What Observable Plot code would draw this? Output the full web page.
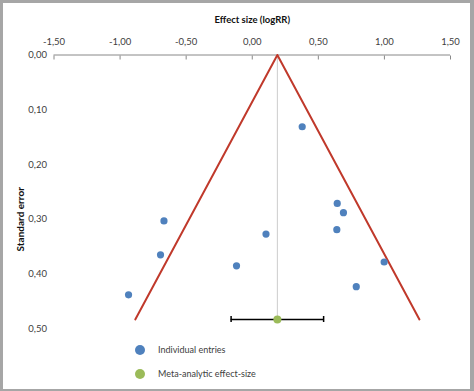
<!DOCTYPE html>
<html>
<head>
<meta charset="utf-8">
<script src="https://cdn.jsdelivr.net/npm/d3@7"></script>
<script src="https://cdn.jsdelivr.net/npm/@observablehq/plot@0.6"></script>
<style>
  html, body { margin: 0; padding: 0; background: #fff; }
  #fig { width: 474px; height: 391px; box-sizing: border-box; border-style: solid; border-color: #a6a6a6;
         border-width: 3px 4px 2px 3px; background: #fff; font-family: Lato, "Open Sans", sans-serif; overflow: hidden; }
  #legend { position: relative; height: 54px; font-size: 9px; color: #404040; }
  .row { position: absolute; left: 132px; display: flex; align-items: center; }
  .dot { width: 10px; height: 10px; border-radius: 50%; margin-right: 13px; }
</style>
</head>
<body>
<div id="fig"><div id="chart"></div><div id="legend"></div></div>
<script>
// Individual entries
const effect = [0.378, 0.643, 0.690, 0.640, 0.998, 0.787, -0.668, -0.694, 0.104, -0.119, -0.936];
const stderr = [0.131, 0.271, 0.288, 0.319, 0.378, 0.423, 0.303, 0.365, 0.327, 0.385, 0.438];
// Meta-analytic effect size and its CI
const metaEffect = [0.19];
const metaSE = [0.483];
const metaLow = [-0.16];
const metaHigh = [0.54];
// Funnel (pseudo confidence limits)
const funnelX = [-0.885, 0.19, 1.265];
const funnelY = [0.483, 0, 0.483];
const xTicks = [-1.5, -1.0, -0.5, 0, 0.5, 1.0, 1.5];
const yTicks = [0, 0.1, 0.2, 0.3, 0.4, 0.5];
const legendLabels = ["Individual entries", "Meta-analytic effect-size"];
const colors = ["#4f81bd", "#9bbb59"];

const fmt = d => d.toFixed(2).replace(".", ",");
const pts = effect.map((e, i) => ({e, s: stderr[i]}));
const meta = metaEffect.map((e, i) => ({e, s: metaSE[i], lo: metaLow[i], hi: metaHigh[i]}));
const funnel = funnelX.map((x, i) => ({x, y: funnelY[i]}));
const caps = meta.flatMap(d => [{x: d.lo, y: d.s}, {x: d.hi, y: d.s}]);

const chart = Plot.plot({
  width: 467,
  height: 332,
  marginLeft: 50.5,
  marginRight: 20,
  marginTop: 51.5,
  marginBottom: 6.7,
  style: {fontFamily: "Lato, 'Open Sans', sans-serif", fontSize: "9.5px", color: "#404040", background: "#fff"},
  x: {type: "linear", domain: [-1.5, 1.5]},
  y: {type: "linear", domain: [0, 0.5], reverse: true},
  marks: [
    Plot.axisX(xTicks, {anchor: "top", tickFormat: fmt, tickSize: -4, tickPadding: 14, label: null, stroke: "#888"}),
    Plot.axisY(yTicks, {anchor: "left", tickFormat: fmt, tickSize: 0, tickPadding: 7, label: null}),
    Plot.ruleY([0], {x1: -1.5, x2: 1.5, stroke: "#888", strokeWidth: 1}),
    Plot.ruleX(metaEffect, {x: d => d, y1: 0, y2: metaSE[0], stroke: "#cccccc", strokeWidth: 1}),
    Plot.line(funnel, {x: "x", y: "y", stroke: "#c0392b", strokeWidth: 2}),
    Plot.ruleY(meta, {y: "s", x1: "lo", x2: "hi", stroke: "#000", strokeWidth: 1.5}),
    Plot.ruleX(caps, {x: "x", y1: "y", y2: "y", insetTop: -3, insetBottom: -3, stroke: "#000", strokeWidth: 1.5}),
    Plot.dot(pts, {x: "e", y: "s", r: 3.6, fill: colors[0]}),
    Plot.dot(meta, {x: "e", y: "s", r: 4, fill: colors[1]}),
    Plot.text(["Effect size (logRR)"], {frameAnchor: "top", dy: -35.5, fontWeight: "bold", fontSize: 9.5, fill: "#111", lineAnchor: "middle", textAnchor: "middle"}),
    Plot.text(["Standard error"], {y: () => 0.3, frameAnchor: "left", dx: -33.5, rotate: -90, fontWeight: "bold", fontSize: 10, fill: "#111", lineAnchor: "middle", textAnchor: "middle"})
  ]
});
document.getElementById("chart").appendChild(chart);

const legend = document.getElementById("legend");
legendLabels.forEach((t, i) => {
  const row = document.createElement("div");
  row.className = "row";
  row.style.top = (9 + i * 24) + "px";
  row.innerHTML = `<span class="dot" style="background:${colors[i]}"></span><span>${t}</span>`;
  legend.appendChild(row);
});
</script>
</body>
</html>
